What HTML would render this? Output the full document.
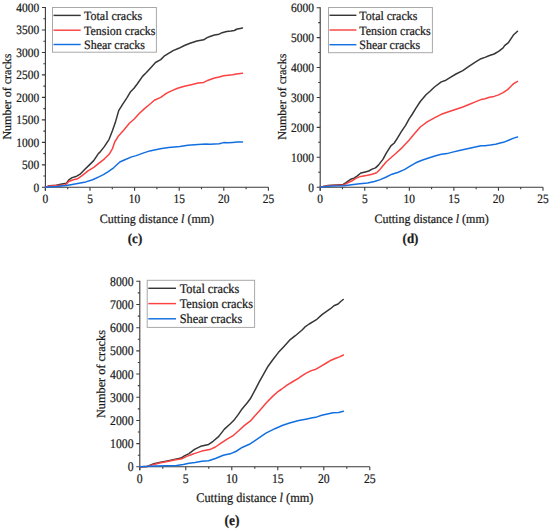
<!DOCTYPE html><html><head><meta charset="utf-8"><style>html,body{margin:0;padding:0;background:#fff;width:550px;height:530px;overflow:hidden}svg{display:block}</style></head><body>
<svg width="550" height="530" viewBox="0 0 550 530">
<rect width="550" height="530" fill="#fff"/>
<g stroke="#3a3a3a" stroke-width="1.1" fill="none">
<path d="M45.40,7.00 L45.40,190.80 M44.90,187.30 L268.40,187.30"/>
<path d="M41.90,187.30 L45.40,187.30 M41.90,164.83 L45.40,164.83 M41.90,142.35 L45.40,142.35 M41.90,119.88 L45.40,119.88 M41.90,97.40 L45.40,97.40 M41.90,74.92 L45.40,74.92 M41.90,52.45 L45.40,52.45 M41.90,29.97 L45.40,29.97 M41.90,7.50 L45.40,7.50 M43.40,176.06 L45.40,176.06 M43.40,153.59 L45.40,153.59 M43.40,131.11 L45.40,131.11 M43.40,108.64 L45.40,108.64 M43.40,86.16 L45.40,86.16 M43.40,63.69 L45.40,63.69 M43.40,41.21 L45.40,41.21 M43.40,18.74 L45.40,18.74 M45.40,187.30 L45.40,190.80 M90.00,187.30 L90.00,190.80 M134.60,187.30 L134.60,190.80 M179.20,187.30 L179.20,190.80 M223.80,187.30 L223.80,190.80 M268.40,187.30 L268.40,190.80 M67.70,187.30 L67.70,189.30 M112.30,187.30 L112.30,189.30 M156.90,187.30 L156.90,189.30 M201.50,187.30 L201.50,189.30 M246.10,187.30 L246.10,189.30"/>
</g>
<g font-family="'Liberation Serif', serif" font-size="12" fill="#1a1a1a" stroke="#1a1a1a" stroke-width="0.22" text-rendering="geometricPrecision">
<text transform="translate(39.20,191.80) scale(0.11460,0.12840)" font-size="100" stroke-width="1.833" text-anchor="end" >0</text>
<text transform="translate(39.20,169.33) scale(0.11460,0.12840)" font-size="100" stroke-width="1.833" text-anchor="end" >500</text>
<text transform="translate(39.20,146.85) scale(0.11460,0.12840)" font-size="100" stroke-width="1.833" text-anchor="end" >1000</text>
<text transform="translate(39.20,124.38) scale(0.11460,0.12840)" font-size="100" stroke-width="1.833" text-anchor="end" >1500</text>
<text transform="translate(39.20,101.90) scale(0.11460,0.12840)" font-size="100" stroke-width="1.833" text-anchor="end" >2000</text>
<text transform="translate(39.20,79.42) scale(0.11460,0.12840)" font-size="100" stroke-width="1.833" text-anchor="end" >2500</text>
<text transform="translate(39.20,56.95) scale(0.11460,0.12840)" font-size="100" stroke-width="1.833" text-anchor="end" >3000</text>
<text transform="translate(39.20,34.47) scale(0.11460,0.12840)" font-size="100" stroke-width="1.833" text-anchor="end" >3500</text>
<text transform="translate(39.20,12.00) scale(0.11460,0.12840)" font-size="100" stroke-width="1.833" text-anchor="end" >4000</text>
<text transform="translate(45.40,202.80) scale(0.11460,0.12840)" font-size="100" stroke-width="1.833" text-anchor="middle" >0</text>
<text transform="translate(90.00,202.80) scale(0.11460,0.12840)" font-size="100" stroke-width="1.833" text-anchor="middle" >5</text>
<text transform="translate(134.60,202.80) scale(0.11460,0.12840)" font-size="100" stroke-width="1.833" text-anchor="middle" >10</text>
<text transform="translate(179.20,202.80) scale(0.11460,0.12840)" font-size="100" stroke-width="1.833" text-anchor="middle" >15</text>
<text transform="translate(223.80,202.80) scale(0.11460,0.12840)" font-size="100" stroke-width="1.833" text-anchor="middle" >20</text>
<text transform="translate(268.40,202.80) scale(0.11460,0.12840)" font-size="100" stroke-width="1.833" text-anchor="middle" >25</text>
<text transform="translate(156.90,222.70) scale(0.12000,0.12840)" font-size="100" stroke-width="1.833" text-anchor="middle" >Cutting distance <tspan font-style="italic">l</tspan> (mm)</text>
<text transform="translate(11.00,96.60) rotate(-90)" text-anchor="middle">Number of cracks</text>
<text transform="translate(135.00,242.80) scale(0.13000,0.13910)" font-size="100" stroke-width="1.692" text-anchor="middle" font-weight="bold">(c)</text>
<rect x="52.50" y="7.50" width="103.90" height="44.70" fill="#fff" stroke="#a8a8a8" stroke-width="1"/>
<path d="M53.50,15.40 L80.70,15.40" stroke="#363636" stroke-width="1.45"/>
<text transform="translate(84.00,20.00) scale(0.12000,0.12840)" font-size="100" stroke-width="1.833" text-anchor="start" >Total cracks</text>
<path d="M53.50,30.20 L80.70,30.20" stroke="#fa4242" stroke-width="1.45"/>
<text transform="translate(84.00,34.80) scale(0.12000,0.12840)" font-size="100" stroke-width="1.833" text-anchor="start" >Tension cracks</text>
<path d="M53.50,44.50 L80.70,44.50" stroke="#136fe0" stroke-width="1.45"/>
<text transform="translate(84.00,49.10) scale(0.12000,0.12840)" font-size="100" stroke-width="1.833" text-anchor="start" >Shear cracks</text>
</g>
<path d="M45.4,187.3 L49.5,185.7 L56.3,185.3 L62.0,184.1 L66.5,183.2 L68.8,179.8 L72.2,177.6 L76.7,176.2 L80.1,174.2 L84.6,169.6 L89.2,165.1 L93.7,160.6 L98.2,153.8 L100.0,152.1 L104.5,146.4 L109.1,139.3 L112.5,130.6 L115.3,122.6 L118.7,110.6 L122.6,104.3 L127.2,97.4 L130.6,91.7 L134.0,88.3 L137.4,83.8 L142.5,76.4 L146.4,72.5 L151.0,67.4 L155.5,62.5 L160.7,59.6 L164.1,56.2 L168.6,53.4 L173.1,50.6 L178.8,48.3 L184.4,45.5 L190.1,43.2 L196.9,41.0 L203.7,39.8 L207.1,37.6 L210.0,36.5 L214.5,35.0 L219.1,34.2 L222.1,32.7 L226.6,31.6 L231.1,31.0 L234.2,30.5 L237.2,29.0 L240.2,28.4 L242.5,28.0" fill="none" stroke="#363636" stroke-width="1.5" stroke-linejoin="round" stroke-linecap="round"/>
<path d="M45.4,187.3 L49.5,186.1 L56.3,185.5 L65.4,184.9 L68.8,181.5 L73.3,179.8 L77.8,178.7 L82.4,175.3 L88.0,170.8 L93.7,167.4 L99.4,162.8 L104.5,158.8 L109.1,154.3 L112.5,148.6 L114.7,142.0 L118.7,135.7 L123.8,130.0 L129.4,123.2 L134.0,119.3 L138.5,114.2 L144.2,108.9 L149.8,104.2 L154.4,100.2 L160.7,97.4 L166.3,93.4 L172.0,90.6 L177.6,88.3 L184.4,86.3 L191.2,84.7 L198.0,83.0 L203.7,82.4 L208.2,80.2 L214.5,78.0 L219.1,77.0 L223.6,75.8 L228.1,75.2 L232.6,74.8 L236.4,73.9 L242.5,73.3" fill="none" stroke="#fa4242" stroke-width="1.5" stroke-linejoin="round" stroke-linecap="round"/>
<path d="M45.4,187.3 L56.3,186.6 L66.5,185.5 L72.2,184.4 L79.0,183.2 L85.8,181.9 L92.6,179.8 L99.4,176.6 L103.4,174.6 L107.9,171.8 L113.6,167.8 L119.8,162.0 L124.9,159.7 L131.7,156.9 L136.2,155.6 L143.0,153.1 L149.8,150.9 L155.5,149.7 L161.8,148.6 L168.6,147.6 L179.9,146.5 L187.8,145.2 L198.0,144.5 L206.0,144.0 L210.0,144.3 L214.5,144.0 L219.1,143.8 L223.6,142.6 L228.1,142.8 L232.6,142.4 L237.2,141.9 L242.5,141.9" fill="none" stroke="#136fe0" stroke-width="1.5" stroke-linejoin="round" stroke-linecap="round"/>
<g stroke="#3a3a3a" stroke-width="1.1" fill="none">
<path d="M320.20,7.20 L320.20,190.70 M319.70,187.20 L543.00,187.20"/>
<path d="M316.70,187.20 L320.20,187.20 M316.70,157.28 L320.20,157.28 M316.70,127.37 L320.20,127.37 M316.70,97.45 L320.20,97.45 M316.70,67.53 L320.20,67.53 M316.70,37.62 L320.20,37.62 M316.70,7.70 L320.20,7.70 M318.20,172.24 L320.20,172.24 M318.20,142.32 L320.20,142.32 M318.20,112.41 L320.20,112.41 M318.20,82.49 L320.20,82.49 M318.20,52.57 L320.20,52.57 M318.20,22.66 L320.20,22.66 M320.20,187.20 L320.20,190.70 M364.76,187.20 L364.76,190.70 M409.32,187.20 L409.32,190.70 M453.88,187.20 L453.88,190.70 M498.44,187.20 L498.44,190.70 M543.00,187.20 L543.00,190.70 M342.48,187.20 L342.48,189.20 M387.04,187.20 L387.04,189.20 M431.60,187.20 L431.60,189.20 M476.16,187.20 L476.16,189.20 M520.72,187.20 L520.72,189.20"/>
</g>
<g font-family="'Liberation Serif', serif" font-size="12" fill="#1a1a1a" stroke="#1a1a1a" stroke-width="0.22" text-rendering="geometricPrecision">
<text transform="translate(314.00,191.70) scale(0.11460,0.12840)" font-size="100" stroke-width="1.833" text-anchor="end" >0</text>
<text transform="translate(314.00,161.78) scale(0.11460,0.12840)" font-size="100" stroke-width="1.833" text-anchor="end" >1000</text>
<text transform="translate(314.00,131.87) scale(0.11460,0.12840)" font-size="100" stroke-width="1.833" text-anchor="end" >2000</text>
<text transform="translate(314.00,101.95) scale(0.11460,0.12840)" font-size="100" stroke-width="1.833" text-anchor="end" >3000</text>
<text transform="translate(314.00,72.03) scale(0.11460,0.12840)" font-size="100" stroke-width="1.833" text-anchor="end" >4000</text>
<text transform="translate(314.00,42.12) scale(0.11460,0.12840)" font-size="100" stroke-width="1.833" text-anchor="end" >5000</text>
<text transform="translate(314.00,12.20) scale(0.11460,0.12840)" font-size="100" stroke-width="1.833" text-anchor="end" >6000</text>
<text transform="translate(320.20,202.80) scale(0.11460,0.12840)" font-size="100" stroke-width="1.833" text-anchor="middle" >0</text>
<text transform="translate(364.76,202.80) scale(0.11460,0.12840)" font-size="100" stroke-width="1.833" text-anchor="middle" >5</text>
<text transform="translate(409.32,202.80) scale(0.11460,0.12840)" font-size="100" stroke-width="1.833" text-anchor="middle" >10</text>
<text transform="translate(453.88,202.80) scale(0.11460,0.12840)" font-size="100" stroke-width="1.833" text-anchor="middle" >15</text>
<text transform="translate(498.44,202.80) scale(0.11460,0.12840)" font-size="100" stroke-width="1.833" text-anchor="middle" >20</text>
<text transform="translate(543.00,202.80) scale(0.11460,0.12840)" font-size="100" stroke-width="1.833" text-anchor="middle" >25</text>
<text transform="translate(431.60,222.60) scale(0.12000,0.12840)" font-size="100" stroke-width="1.833" text-anchor="middle" >Cutting distance <tspan font-style="italic">l</tspan> (mm)</text>
<text transform="translate(286.20,96.65) rotate(-90)" text-anchor="middle">Number of cracks</text>
<text transform="translate(410.50,242.80) scale(0.13000,0.13910)" font-size="100" stroke-width="1.692" text-anchor="middle" font-weight="bold">(d)</text>
<rect x="328.50" y="7.50" width="103.90" height="45.20" fill="#fff" stroke="#a8a8a8" stroke-width="1"/>
<path d="M329.50,15.30 L356.40,15.30" stroke="#363636" stroke-width="1.45"/>
<text transform="translate(359.30,19.90) scale(0.12000,0.12840)" font-size="100" stroke-width="1.833" text-anchor="start" >Total cracks</text>
<path d="M329.50,30.00 L356.40,30.00" stroke="#fa4242" stroke-width="1.45"/>
<text transform="translate(359.30,34.60) scale(0.12000,0.12840)" font-size="100" stroke-width="1.833" text-anchor="start" >Tension cracks</text>
<path d="M329.50,44.70 L356.40,44.70" stroke="#136fe0" stroke-width="1.45"/>
<text transform="translate(359.30,49.30) scale(0.12000,0.12840)" font-size="100" stroke-width="1.833" text-anchor="start" >Shear cracks</text>
</g>
<path d="M320.2,187.2 L327.9,185.5 L337.0,184.9 L343.2,184.4 L346.0,182.7 L350.6,179.3 L354.0,178.1 L357.4,175.9 L360.8,173.0 L365.3,171.9 L368.7,171.0 L372.1,169.1 L375.5,167.9 L378.4,165.1 L382.9,159.4 L386.3,153.2 L390.9,145.9 L394.3,143.0 L397.6,137.9 L401.0,132.1 L405.6,125.3 L409.0,119.1 L412.4,114.0 L415.8,108.3 L420.3,101.5 L426.0,94.7 L430.0,91.2 L434.5,87.0 L441.3,81.9 L445.9,80.2 L450.4,77.4 L456.0,74.0 L462.8,70.6 L468.5,66.6 L475.3,62.1 L481.0,58.7 L485.0,57.4 L489.5,55.5 L494.1,54.0 L498.6,51.3 L503.1,47.9 L504.6,45.7 L508.4,42.6 L511.4,38.1 L513.7,34.7 L517.5,31.2" fill="none" stroke="#363636" stroke-width="1.5" stroke-linejoin="round" stroke-linecap="round"/>
<path d="M320.2,187.2 L327.9,185.7 L337.0,185.3 L343.8,184.9 L347.2,183.2 L351.7,181.0 L356.2,178.1 L360.8,176.4 L367.6,175.3 L372.1,174.2 L376.6,172.8 L380.3,169.0 L386.3,161.7 L390.9,157.7 L395.4,153.8 L402.2,147.6 L409.0,140.2 L414.6,133.5 L420.3,127.0 L427.1,121.9 L435.3,117.3 L441.3,114.3 L449.3,111.5 L456.0,109.3 L462.8,107.0 L469.6,104.2 L475.3,101.9 L481.0,99.6 L485.0,98.7 L489.5,97.3 L494.1,96.4 L498.6,94.9 L503.1,92.6 L507.6,89.6 L511.4,85.8 L513.7,83.6 L517.5,81.3" fill="none" stroke="#fa4242" stroke-width="1.5" stroke-linejoin="round" stroke-linecap="round"/>
<path d="M320.2,187.2 L331.3,186.1 L343.8,185.7 L351.7,184.7 L359.6,183.8 L367.6,183.0 L374.4,181.5 L380.3,179.6 L386.3,177.0 L392.0,174.2 L397.6,172.5 L404.4,169.6 L410.1,166.2 L415.8,162.8 L422.6,160.0 L429.4,157.7 L435.7,155.8 L441.3,154.3 L447.0,153.6 L452.6,152.1 L459.4,150.4 L466.2,149.0 L475.3,147.0 L481.0,145.8 L485.0,145.7 L490.3,145.1 L495.6,144.3 L500.1,143.0 L504.6,141.9 L509.2,140.0 L513.7,138.1 L517.5,137.0" fill="none" stroke="#136fe0" stroke-width="1.5" stroke-linejoin="round" stroke-linecap="round"/>
<g stroke="#3a3a3a" stroke-width="1.1" fill="none">
<path d="M139.80,280.80 L139.80,470.30 M139.30,466.80 L369.80,466.80"/>
<path d="M136.30,466.80 L139.80,466.80 M136.30,443.61 L139.80,443.61 M136.30,420.43 L139.80,420.43 M136.30,397.24 L139.80,397.24 M136.30,374.05 L139.80,374.05 M136.30,350.86 L139.80,350.86 M136.30,327.68 L139.80,327.68 M136.30,304.49 L139.80,304.49 M136.30,281.30 L139.80,281.30 M137.80,455.21 L139.80,455.21 M137.80,432.02 L139.80,432.02 M137.80,408.83 L139.80,408.83 M137.80,385.64 L139.80,385.64 M137.80,362.46 L139.80,362.46 M137.80,339.27 L139.80,339.27 M137.80,316.08 L139.80,316.08 M137.80,292.89 L139.80,292.89 M139.80,466.80 L139.80,470.30 M185.80,466.80 L185.80,470.30 M231.80,466.80 L231.80,470.30 M277.80,466.80 L277.80,470.30 M323.80,466.80 L323.80,470.30 M369.80,466.80 L369.80,470.30 M162.80,466.80 L162.80,468.80 M208.80,466.80 L208.80,468.80 M254.80,466.80 L254.80,468.80 M300.80,466.80 L300.80,468.80 M346.80,466.80 L346.80,468.80"/>
</g>
<g font-family="'Liberation Serif', serif" font-size="12.3" fill="#1a1a1a" stroke="#1a1a1a" stroke-width="0.22" text-rendering="geometricPrecision">
<text transform="translate(133.60,471.30) scale(0.11747,0.13161)" font-size="100" stroke-width="1.789" text-anchor="end" >0</text>
<text transform="translate(133.60,448.11) scale(0.11747,0.13161)" font-size="100" stroke-width="1.789" text-anchor="end" >1000</text>
<text transform="translate(133.60,424.93) scale(0.11747,0.13161)" font-size="100" stroke-width="1.789" text-anchor="end" >2000</text>
<text transform="translate(133.60,401.74) scale(0.11747,0.13161)" font-size="100" stroke-width="1.789" text-anchor="end" >3000</text>
<text transform="translate(133.60,378.55) scale(0.11747,0.13161)" font-size="100" stroke-width="1.789" text-anchor="end" >4000</text>
<text transform="translate(133.60,355.36) scale(0.11747,0.13161)" font-size="100" stroke-width="1.789" text-anchor="end" >5000</text>
<text transform="translate(133.60,332.18) scale(0.11747,0.13161)" font-size="100" stroke-width="1.789" text-anchor="end" >6000</text>
<text transform="translate(133.60,308.99) scale(0.11747,0.13161)" font-size="100" stroke-width="1.789" text-anchor="end" >7000</text>
<text transform="translate(133.60,285.80) scale(0.11747,0.13161)" font-size="100" stroke-width="1.789" text-anchor="end" >8000</text>
<text transform="translate(139.80,482.80) scale(0.11747,0.13161)" font-size="100" stroke-width="1.789" text-anchor="middle" >0</text>
<text transform="translate(185.80,482.80) scale(0.11747,0.13161)" font-size="100" stroke-width="1.789" text-anchor="middle" >5</text>
<text transform="translate(231.80,482.80) scale(0.11747,0.13161)" font-size="100" stroke-width="1.789" text-anchor="middle" >10</text>
<text transform="translate(277.80,482.80) scale(0.11747,0.13161)" font-size="100" stroke-width="1.789" text-anchor="middle" >15</text>
<text transform="translate(323.80,482.80) scale(0.11747,0.13161)" font-size="100" stroke-width="1.789" text-anchor="middle" >20</text>
<text transform="translate(369.80,482.80) scale(0.11747,0.13161)" font-size="100" stroke-width="1.789" text-anchor="middle" >25</text>
<text transform="translate(254.80,502.20) scale(0.12300,0.13161)" font-size="100" stroke-width="1.789" text-anchor="middle" >Cutting distance <tspan font-style="italic">l</tspan> (mm)</text>
<text transform="translate(104.50,374.05) rotate(-90)" text-anchor="middle">Number of cracks</text>
<text transform="translate(232.00,524.50) scale(0.13500,0.14445)" font-size="100" stroke-width="1.630" text-anchor="middle" font-weight="bold">(e)</text>
<rect x="147.20" y="280.30" width="107.40" height="47.10" fill="#fff" stroke="#a8a8a8" stroke-width="1"/>
<path d="M148.30,288.30 L176.00,288.30" stroke="#363636" stroke-width="1.45"/>
<text transform="translate(179.70,292.90) scale(0.12300,0.13161)" font-size="100" stroke-width="1.789" text-anchor="start" >Total cracks</text>
<path d="M148.30,303.60 L176.00,303.60" stroke="#fa4242" stroke-width="1.45"/>
<text transform="translate(179.70,308.20) scale(0.12300,0.13161)" font-size="100" stroke-width="1.789" text-anchor="start" >Tension cracks</text>
<path d="M148.30,318.80 L176.00,318.80" stroke="#136fe0" stroke-width="1.45"/>
<text transform="translate(179.70,323.40) scale(0.12300,0.13161)" font-size="100" stroke-width="1.789" text-anchor="start" >Shear cracks</text>
</g>
<path d="M139.8,466.8 L147.1,466.4 L153.9,463.8 L160.6,462.3 L167.4,461.0 L175.4,459.3 L181.0,458.1 L184.4,455.9 L189.0,453.6 L193.5,450.2 L195.0,449.2 L200.7,446.3 L208.6,444.4 L213.1,441.3 L218.8,436.4 L224.4,429.1 L230.1,424.0 L234.6,419.4 L238.0,414.9 L241.4,409.8 L247.1,403.0 L250.3,398.8 L255.4,389.3 L259.1,382.1 L263.6,374.2 L268.1,366.2 L272.6,360.0 L278.3,352.6 L284.0,346.4 L289.6,340.2 L295.3,335.7 L302.1,330.0 L305.0,326.9 L309.2,324.0 L313.5,321.4 L316.9,319.3 L322.0,314.6 L326.2,311.6 L330.5,308.7 L333.9,305.7 L338.1,304.0 L340.7,301.5 L343.2,299.5" fill="none" stroke="#363636" stroke-width="1.5" stroke-linejoin="round" stroke-linecap="round"/>
<path d="M139.8,466.8 L147.1,466.6 L153.9,464.4 L160.6,462.7 L168.6,461.2 L175.4,459.8 L182.2,458.7 L186.7,456.4 L191.2,454.7 L195.0,453.4 L201.8,451.1 L209.7,449.6 L215.4,447.0 L221.0,443.2 L226.7,439.3 L233.5,435.3 L239.2,430.2 L244.8,425.1 L250.2,421.2 L254.5,416.2 L260.2,410.0 L265.9,403.2 L272.6,396.4 L278.3,391.3 L281.1,389.5 L287.4,384.9 L293.0,381.5 L298.7,378.1 L300.0,377.2 L305.7,373.4 L311.3,370.6 L316.0,369.2 L320.8,366.3 L326.4,363.0 L331.1,360.2 L335.8,358.3 L339.6,356.9 L343.4,355.0" fill="none" stroke="#fa4242" stroke-width="1.5" stroke-linejoin="round" stroke-linecap="round"/>
<path d="M139.8,466.8 L155.0,466.1 L166.3,465.8 L176.5,465.5 L183.3,464.4 L189.0,463.2 L195.0,462.5 L201.8,461.3 L208.6,460.8 L215.4,458.5 L223.3,455.3 L231.2,453.4 L235.8,451.5 L242.6,447.2 L249.4,444.3 L255.0,440.6 L265.9,433.2 L274.9,428.7 L282.8,425.3 L289.6,423.0 L298.7,420.5 L305.7,419.2 L311.3,418.1 L317.0,416.9 L321.7,415.3 L327.4,414.1 L333.0,412.8 L338.7,412.5 L343.4,411.2" fill="none" stroke="#136fe0" stroke-width="1.5" stroke-linejoin="round" stroke-linecap="round"/>
</svg></body></html>
